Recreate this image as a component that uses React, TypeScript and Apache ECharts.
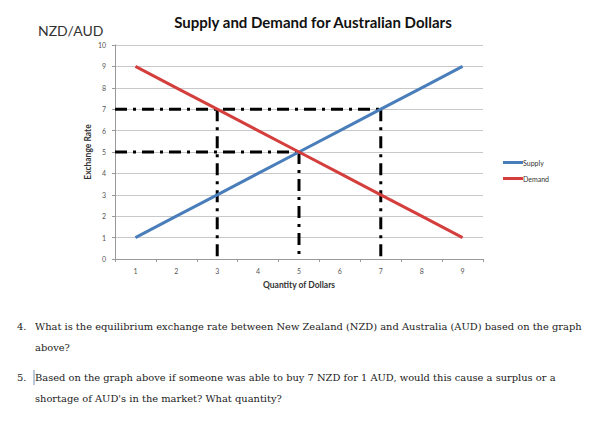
import React, { useEffect, useRef } from "react";
import * as echarts from "echarts";

const quantities = ["1", "2", "3", "4", "5", "6", "7", "8", "9"];
const supplyPoints: [number, number][] = [[1, 1], [2, 2], [3, 3], [4, 4], [5, 5], [6, 6], [7, 7], [8, 8], [9, 9]];
const demandPoints: [number, number][] = [[1, 9], [2, 8], [3, 7], [4, 6], [5, 5], [6, 4], [7, 3], [8, 2], [9, 1]];
const guideH7: [number, number][] = [[0.5, 7], [7, 7]];
const guideH5: [number, number][] = [[0.5, 5], [5, 5]];
const guideV3: [number, number][] = [[3, 7], [3, 0]];
const guideV5: [number, number][] = [[5, 5], [5, 0]];
const guideV7: [number, number][] = [[7, 7], [7, 0]];
const questionNumbers = ["4.", "", "5.", ""];
const questionLines = [
  "What is the equilibrium exchange rate between New Zealand (NZD) and Australia (AUD) based on the graph",
  "above?",
  "Based on the graph above if someone was able to buy 7 NZD for 1 AUD, would this cause a surplus or a",
  "shortage of AUD's in the market? What quantity?",
];

export default function App() {
  const ref = useRef<HTMLDivElement>(null);
  useEffect(() => {
    document.body.style.margin = "0";
    const chart = echarts.init(ref.current!, null, { renderer: "svg" });
    const sans = "Lato, 'Open Sans', sans-serif";
    const serif = "'DejaVu Serif', serif";
    const lineY = [326, 347, 377, 398];
    const guide = (data: [number, number][]) => ({
      type: "line",
      xAxisIndex: 1,
      data,
      symbol: "none",
      silent: true,
      lineStyle: { color: "#000", width: 3, type: [12, 6, 3, 6] },
      z: 3,
    });
    chart.setOption({
      animation: false,
      backgroundColor: "#fff",
      grid: { left: 115, right: 107, top: 45, bottom: 189 },
      xAxis: [
        {
          type: "category",
          data: quantities,
          boundaryGap: true,
          axisLine: { lineStyle: { color: "#999" } },
          axisTick: { show: true, length: 3, lineStyle: { color: "#999" } },
          axisLabel: { fontSize: 7, color: "#555", fontFamily: sans, margin: 8 },
        },
        {
          type: "value",
          min: 0.5,
          max: 9.5,
          show: false,
        },
      ],
      yAxis: {
        type: "value",
        min: 0,
        max: 10,
        interval: 1,
        axisLine: { show: true, lineStyle: { color: "#999" } },
        axisTick: { show: true, length: 3, lineStyle: { color: "#999" } },
        axisLabel: { fontSize: 7, color: "#555", fontFamily: sans, margin: 9 },
        splitLine: { lineStyle: { color: "#c8c8c8", width: 1 } },
      },
      legend: {
        orient: "vertical",
        left: 498,
        top: 154,
        itemWidth: 20,
        itemHeight: 3,
        itemGap: 9,
        icon: "rect",
        textStyle: { fontSize: 7, color: "#333", fontFamily: sans, padding: [0, 0, 0, -5] },
        data: ["Supply", "Demand"],
      },
      series: [
        guide(guideH7),
        guide(guideH5),
        guide(guideV3),
        guide(guideV5),
        guide(guideV7),
        {
          name: "Supply",
          type: "line",
          xAxisIndex: 1,
          data: supplyPoints,
          symbol: "none",
          color: "#4a7ebb",
          lineStyle: { color: "#4a7ebb", width: 3 },
          z: 4,
        },
        {
          name: "Demand",
          type: "line",
          xAxisIndex: 1,
          data: demandPoints,
          symbol: "none",
          color: "#d43f3e",
          lineStyle: { color: "#d43f3e", width: 3 },
          z: 4,
        },
      ],
      graphic: [
        {
          type: "text",
          x: 313,
          y: 22,
          style: { text: "Supply and Demand for Australian Dollars", fontSize: 15, fontWeight: "bold", fill: "#111", fontFamily: sans, align: "center", verticalAlign: "middle" },
        },
        {
          type: "text",
          x: 38,
          y: 30,
          style: { text: "NZD/AUD", fontSize: 14, fill: "#333", fontFamily: sans, verticalAlign: "middle" },
        },
        {
          type: "text",
          x: 88,
          y: 152,
          rotation: Math.PI / 2,
          style: { text: "Exchange Rate", fontSize: 8.5, fontWeight: "bold", fill: "#333", fontFamily: sans, align: "center", verticalAlign: "middle" },
        },
        {
          type: "text",
          x: 299,
          y: 285,
          style: { text: "Quantity of Dollars", fontSize: 8.5, fontWeight: "bold", fill: "#333", fontFamily: sans, align: "center", verticalAlign: "middle" },
        },
        ...questionNumbers.map((t, i) => ({
          type: "text",
          x: 17,
          y: lineY[i],
          style: { text: t, fontSize: 9.9, fill: "#222", fontFamily: serif, verticalAlign: "middle" },
        })),
        ...questionLines.map((t, i) => ({
          type: "text",
          x: 35,
          y: lineY[i],
          style: { text: t, fontSize: 9.9, fill: "#222", fontFamily: serif, verticalAlign: "middle" },
        })),
        {
          type: "line",
          shape: { x1: 34, y1: 370, x2: 34, y2: 385 },
          style: { stroke: "#7a8fb5", lineWidth: 1 },
        },
      ],
    });
    return () => chart.dispose();
  }, []);
  return <div ref={ref} style={{ width: 590, height: 448, position: "absolute", left: 0, top: 0 }} />;
}
